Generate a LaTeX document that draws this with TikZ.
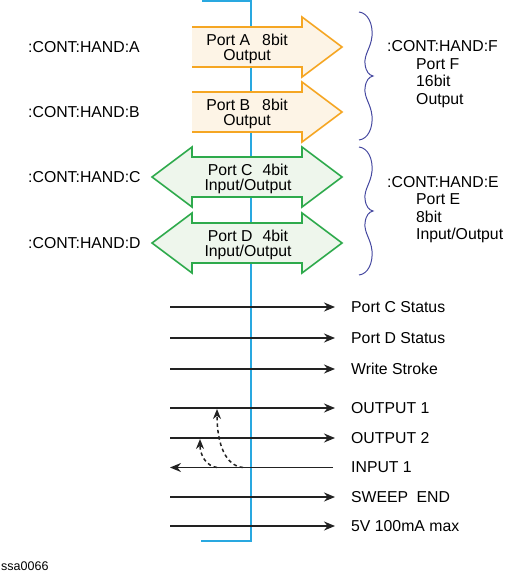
\documentclass[tikz,border=0pt]{standalone}
\usepackage{fontspec}
\setmainfont{Liberation Sans}
\usetikzlibrary{arrows.meta}

\definecolor{portorange}{HTML}{F5A623}
\definecolor{portcream}{HTML}{FDF4E6}
\definecolor{portgreen}{HTML}{2EAA4C}
\definecolor{portmint}{HTML}{EEF6EC}
\definecolor{busblue}{HTML}{29A8E0}
\definecolor{bracenavy}{HTML}{4548A0}
\definecolor{sigblack}{HTML}{222222}

\tikzset{
  txt/.style={font=\fontsize{15.8}{15}\selectfont, inner sep=0pt},
  porttxt/.style={txt, align=center},
  outport/.style={draw=portorange, line width=1.6pt},
  ioport/.style={draw=portgreen, fill=portmint, line width=1.6pt},
  sig/.style={draw=sigblack, line width=1.6pt, -{Stealth[length=11pt,width=9pt]}},
  fbline/.style={draw=sigblack, line width=1.5pt, dash pattern=on 3.5pt off 3pt, -{Stealth[length=10pt,width=8pt]}},
  handbrace/.style={draw=bracenavy, line width=1pt}
}

\begin{document}
\begin{tikzpicture}[x=1pt, y=-1pt]
        \useasboundingbox (0,0) rectangle (504,577);

        % bus line
        \draw[busblue, line width=1.6pt] (202,1) -- (251,1) -- (251,541) -- (201,541);

        % output ports A, B
        \foreach \y in {47,112} {
          \fill[portcream] (192,\y-20) -- (302,\y-20) -- (302,\y-30) -- (342,\y) -- (302,\y+30) -- (302,\y+20) -- (192,\y+20) -- cycle;
          \draw[outport] (192,\y-20) -- (302,\y-20) -- (302,\y-30) -- (342,\y) -- (302,\y+30) -- (302,\y+20) -- (192,\y+20);
        }
        % input/output ports C, D
        \foreach \y in {177,243} {
          \path[ioport] (152,\y) -- (192,\y-30) -- (192,\y-20) -- (302,\y-20) -- (302,\y-30) -- (342,\y) -- (302,\y+30) -- (302,\y+20) -- (192,\y+20) -- (192,\y+30) -- cycle;
        }

        \node[porttxt] (porta) at (247,49) {Port A\hspace{12pt}8bit\\Output};
        \node[porttxt] (portb) at (247,114) {Port B\hspace{12pt}8bit\\Output};
        \node[porttxt] (portc) at (248,179) {Port C\hspace{10pt}4bit\\Input/Output};
        \node[porttxt] (portd) at (248,245) {Port D\hspace{10pt}4bit\\Input/Output};

        \node[txt, anchor=west] (handa) at (28,47) {:CONT:HAND:A};
        \node[txt, anchor=west] (handb) at (28,112) {:CONT:HAND:B};
        \node[txt, anchor=west] (handc) at (28,177) {:CONT:HAND:C};
        \node[txt, anchor=west] (handd) at (28,243) {:CONT:HAND:D};

        % braces for ports F and E
        \foreach \t in {0,135} {
          \draw[handbrace, yshift=-\t pt] (359,12) .. controls (368,13) and (373,24) .. (372,36)
            .. controls (371,48) and (364,54) .. (365,64)
            .. controls (366,72) and (369,75) .. (373,76)
            .. controls (369,77) and (366,80) .. (365,88)
            .. controls (364,98) and (371,104) .. (372,116)
            .. controls (373,128) and (368,139) .. (359,140);
        }

        \node[txt, anchor=base west] (handf) at (387,52) {:CONT:HAND:F};
        \node[txt, anchor=base west] (portf) at (416,69.5) {Port F};
        \node[txt, anchor=base west] (bitsf) at (416,87) {16bit};
        \node[txt, anchor=base west] (dirf) at (416,104.5) {Output};
        \node[txt, anchor=base west] (hande) at (387,187) {:CONT:HAND:E};
        \node[txt, anchor=base west] (porte) at (416,204.5) {Port E};
        \node[txt, anchor=base west] (bitse) at (416,222) {8bit};
        \node[txt, anchor=base west] (dire) at (416,239.5) {Input/Output};

        % handshake lines
        \coordinate (cst) at (170,307);
        \coordinate (dst) at (170,338);
        \coordinate (wrs) at (170,369);
        \coordinate (out1) at (170,408);
        \coordinate (out2) at (170,438);
        \coordinate (inp1) at (170,467.5);
        \coordinate (swe) at (170,497);
        \coordinate (pwr) at (170,526);

        \node[txt, anchor=west] (cstl) at (351,307) {Port C Status};
        \node[txt, anchor=west] (dstl) at (351,338) {Port D Status};
        \node[txt, anchor=west] (wrsl) at (351,369) {Write Stroke};
        \node[txt, anchor=west] (out1l) at (351,408) {OUTPUT 1};
        \node[txt, anchor=west] (out2l) at (351,438) {OUTPUT 2};
        \node[txt, anchor=west] (inp1l) at (351,467.5) {INPUT 1};
        \node[txt, anchor=west] (swel) at (351,497) {SWEEP\hspace{4pt} END};
        \node[txt, anchor=west] (pwrl) at (351,526) {5V 100mA max};

        \draw[sig, shorten >=16pt] (cst) -- (cstl.west);
        \draw[sig, shorten >=16pt] (dst) -- (dstl.west);
        \draw[sig, shorten >=16pt] (wrs) -- (wrsl.west);
        \draw[sig, shorten >=16pt] (out1) -- (out1l.west);
        \draw[sig, shorten >=16pt] (out2) -- (out2l.west);
        \draw[sig, shorten <=18pt] (inp1l.west) -- (inp1);
        \draw[sig, shorten >=16pt] (swe) -- (swel.west);
        \draw[sig, shorten >=16pt] (pwr) -- (pwrl.west);

        % input 1 sets the outputs
        \coordinate (fba) at (243,467.5);
        \coordinate (fbb) at (217,409);
        \coordinate (fbc) at (217,467.5);
        \coordinate (fbd) at (200,439);
        \draw[fbline] (fba) .. controls (226,466) and (217,445) .. (fbb);
        \draw[fbline] (fbc) .. controls (206,466) and (200,455) .. (fbd);

        \node[font=\fontsize{12.5}{14}\selectfont, inner sep=0pt, anchor=west] (figid) at (1,566) {ssa0066};
      \end{tikzpicture}
\end{document}
